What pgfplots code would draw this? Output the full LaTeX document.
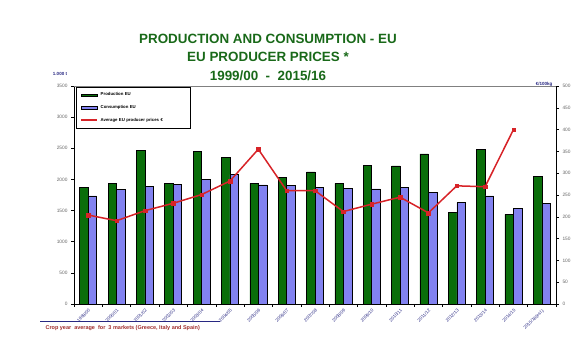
\documentclass[border=0pt]{standalone}
\usepackage{fontspec}
\setmainfont{Liberation Sans}
\usepackage{pgfplots}
\pgfplotsset{compat=1.18}
\definecolor{prodgreen}{RGB}{10,110,10}
\definecolor{consblue}{RGB}{130,130,240}
\definecolor{pricered}{RGB}{215,35,40}
\definecolor{titlegreen}{RGB}{25,105,25}
\definecolor{navy}{RGB}{40,40,130}
\definecolor{footred}{RGB}{160,45,45}
\begin{document}
\begin{tikzpicture}[x=1pt,y=1pt]
\path (0,0) rectangle (582,363);
\node[font=\fontsize{13.4}{18.5}\selectfont\bfseries, text=titlegreen, align=center] at (268,306)
  {PRODUCTION AND CONSUMPTION - EU\\EU PRODUCER PRICES *\\1999/00 \ - \ 2015/16};
\node[font=\fontsize{4.5}{5}\selectfont\bfseries, text=navy] at (60,289) {1.000 t};
\node[font=\fontsize{4.5}{5}\selectfont\bfseries, text=navy, anchor=east] at (556,279) {€/100kg};
\draw[navy, line width=0.6pt] (40,42) -- (220,42);
\node[font=\fontsize{5.5}{6}\selectfont\bfseries, text=footred, anchor=west] at (42,35) {Crop year \ average \ for \ 3 markets (Greece, Italy and Spain)};
\begin{axis}[
  at={(74pt,59pt)}, anchor=south west,
  scale only axis, width=482pt, height=218pt,
  xmin=-0.5, xmax=16.5, ymin=0, ymax=3500,
  axis x line*=bottom, axis y line*=left,
  ytick={0,500,...,3500},
  xtick={0,...,16},
  xticklabels={1999/00,2000/01,2001/02,2002/03,2003/04,2004/05,2005/06,2006/07,2007/08,2008/09,2009/10,2010/11,2011/12,2012/13,2013/14,2014/15,2015/16(est.)},
  major x tick style={draw=none},
  minor xtick={-0.5,0.5,...,16.5},
  minor tick length=3pt,
  major tick length=3pt,
  tick align=outside,
  tick style={black, line width=0.5pt},
  x axis line style={-, line width=0.6pt},
  y axis line style={-, line width=0.6pt},
  xticklabel style={rotate=45, anchor=north east, font=\fontsize{4.5}{5}\selectfont, text=navy, inner sep=1pt},
  yticklabel style={font=\fontsize{4.8}{5}\selectfont, text=black!60},
  /pgf/number format/assume math mode=true,
  /pgf/number format/1000 sep={},
  ybar=0pt, bar width=8.5pt,
]
\addplot[fill=prodgreen, draw=black, line width=0.5pt, bar shift=-4.25pt] coordinates {
(0,1878) (1,1940) (2,2470) (3,1940) (4,2452) (5,2355) (6,1938) (7,2034) (8,2120) (9,1938) (10,2227) (11,2216) (12,2409) (13,1472) (14,2484) (15,1440) (16,2050)};
\addplot[fill=consblue, draw=black, line width=0.5pt, bar shift=4.25pt] coordinates {
(0,1734) (1,1842) (2,1890) (3,1922) (4,2002) (5,2083) (6,1911) (7,1900) (8,1874) (9,1858) (10,1847) (11,1874) (12,1794) (13,1627) (14,1734) (15,1537) (16,1617)};
\draw[black!50, line width=0.6pt] (rel axis cs:0,1) -- (rel axis cs:1,1);
\end{axis}
\begin{axis}[
  at={(74pt,59pt)}, anchor=south west,
  scale only axis, width=482pt, height=218pt,
  xmin=-0.5, xmax=16.5, ymin=0, ymax=500,
  axis x line=none, axis y line*=right,
  ytick={0,50,...,500},
  tick align=outside, major tick length=3pt,
  tick style={black, line width=0.5pt},
  y axis line style={-, line width=0.6pt},
  yticklabel style={font=\fontsize{4.8}{5}\selectfont, text=black!60},
  /pgf/number format/assume math mode=true,
  legend style={at={(0.004,0.996)}, anchor=north west, draw=black, line width=0.6pt,
    font=\fontsize{4.3}{5}\selectfont\bfseries, row sep=4pt, inner xsep=4pt, inner ysep=3.5pt,
    text width=84pt, cells={anchor=west}},
  legend cell align=left,
]
\addlegendimage{legend image code/.code={\draw[fill=prodgreen, draw=black, line width=0.3pt] (0pt,-1.2pt) rectangle (16pt,1.2pt);}}
\addlegendentry{Production EU}
\addlegendimage{legend image code/.code={\draw[fill=consblue, draw=black, line width=0.3pt] (0pt,-1.2pt) rectangle (16pt,1.2pt);}}
\addlegendentry{Consumption EU}
\addplot[pricered, line width=1.5pt, mark=square*, mark size=1.8pt, mark options={solid, line width=0.3pt},
  legend image code/.code={\draw[pricered, line width=2.5pt] (0pt,0pt) -- (16pt,0pt);}] coordinates {
(0,204) (1,191) (2,214) (3,231) (4,251) (5,282) (6,355) (7,260) (8,260) (9,212) (10,229) (11,245) (12,209) (13,271) (14,269) (15,400)};
\addlegendentry{Average EU producer prices €}
\end{axis}
\pgfresetboundingbox
\path[use as bounding box] (0,0) rectangle (582,363);
\end{tikzpicture}
\end{document}
